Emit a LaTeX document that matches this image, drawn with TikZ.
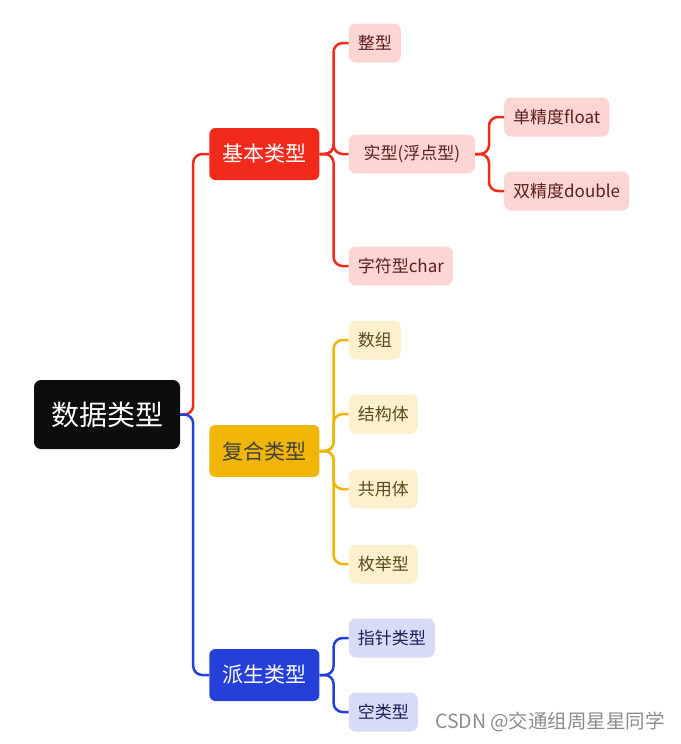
\documentclass[tikz,border=0pt]{standalone}
\usepackage{fontspec}
\usepackage{tikz}
\usepackage{xcolor}
\usetikzlibrary{positioning}
\newfontfamily\cjk{Noto Sans CJK SC}

\definecolor{root-c}{HTML}{0D0D0D}
\definecolor{red-c}{HTML}{F22A1B}
\definecolor{red-l}{HTML}{FDD5D2}
\definecolor{red-t}{HTML}{5C1F1F}
\definecolor{yel-c}{HTML}{F0B505}
\definecolor{yel-l}{HTML}{FDF0CE}
\definecolor{yel-t}{HTML}{5A4A1C}
\definecolor{blu-c}{HTML}{2540D9}
\definecolor{blu-l}{HTML}{D7DBF6}
\definecolor{blu-t}{HTML}{1B2157}

\begin{document}
\begin{tikzpicture}
[
x=1pt, y=-1pt,
node-root/.style={rectangle, rounded corners=7pt, fill=root-c, text=white, minimum height=69pt, minimum width=146pt, font=\cjk\fontsize{28}{30}\selectfont},
node-a/.style={rectangle, rounded corners=6pt, minimum height=52pt, minimum width=110pt, font=\cjk\fontsize{21}{24}\selectfont},
node-b/.style={rectangle, rounded corners=7pt, minimum height=39pt, inner xsep=9pt, font=\cjk\fontsize{17}{19}\selectfont},
link-a/.style={line width=2.5pt, rounded corners=9pt}
]
\useasboundingbox (0,0) rectangle (680,744);
\node (root)     [node-root] at (107,414.5) {数据类型};
% level one
\node (basic)    [node-a, fill=red-c, text=white, right = 29pt of root, yshift= 260.5pt] {基本类型};
\node (compound) [node-a, fill=yel-c, text=black!75, right = 29pt of root, yshift=-36.5pt] {复合类型};
\node (derived)  [node-a, fill=blu-c, text=white, right = 29pt of root, yshift=-260.5pt] {派生类型};
% basic types
\node (int)      [node-b, fill=red-l, text=red-t, minimum width= 52pt, right = 29pt of basic, yshift= 111pt] {整型};
\node (real)     [node-b, fill=red-l, text=red-t, minimum width=126pt, right = 29pt of basic                ] {实型(浮点型)};
\node (char)     [node-b, fill=red-l, text=red-t, minimum width=103pt, right = 29pt of basic, yshift=-112pt] {字符型char};
\node (float)    [node-b, fill=red-l, text=red-t, minimum width=104pt, right = 29pt of real,  yshift=  37pt] {单精度float};
\node (double)   [node-b, fill=red-l, text=red-t, minimum width=124pt, right = 29pt of real,  yshift= -37pt] {双精度double};
% compound types
\node (array)    [node-b, fill=yel-l, text=yel-t, minimum width= 52pt, right = 29pt of compound, yshift= 111pt] {数组};
\node (struct)   [node-b, fill=yel-l, text=yel-t, minimum width= 69pt, right = 29pt of compound, yshift=  37pt] {结构体};
\node (union)    [node-b, fill=yel-l, text=yel-t, minimum width= 69pt, right = 29pt of compound, yshift= -38pt] {共用体};
\node (enum)     [node-b, fill=yel-l, text=yel-t, minimum width= 69pt, right = 29pt of compound, yshift=-113pt] {枚举型};
% derived types
\node (pointer)  [node-b, fill=blu-l, text=blu-t, minimum width= 85pt, right = 29pt of derived, yshift= 37pt] {指针类型};
\node (void)     [node-b, fill=blu-l, text=blu-t, minimum width= 68pt, right = 29pt of derived, yshift=-37pt] {空类型};
% links
\draw [link-a, red-c] (root.east) -- ++(13,0) |- (basic.west);
\draw [link-a, blu-c] (root.east) -- ++(13,0) |- (derived.west);
\foreach \k in {int, real, char}
  \draw [link-a, red-c] (basic.east) -- ++(14,0) |- (\k.west);
\foreach \k in {float, double}
  \draw [link-a, red-c] (real.east) -- ++(14,0) |- (\k.west);
\foreach \k in {array, struct, union, enum}
  \draw [link-a, yel-c] (compound.east) -- ++(14,0) |- (\k.west);
\foreach \k in {pointer, void}
  \draw [link-a, blu-c] (derived.east) -- ++(14,0) |- (\k.west);
\node (mark) [text=black!45, font=\cjk\fontsize{19.5}{22}\selectfont] at (550,722) {CSDN @交通组周星星同学};
\end{tikzpicture}
\end{document}
